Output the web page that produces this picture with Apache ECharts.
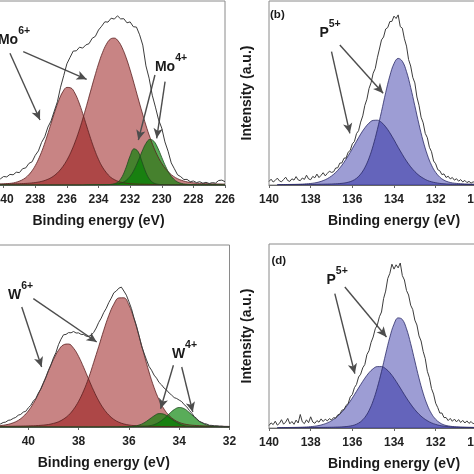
<!DOCTYPE html>
<html><head><meta charset="utf-8">
<script src="https://cdn.jsdelivr.net/npm/echarts@6/dist/echarts.min.js"></script>
<style>html,body{margin:0;padding:0;background:#fff}#c{width:474px;height:474px}</style>
</head><body><div id="c"></div>
<script>
// ---------- Panel (a): Mo 3d ----------
const aEnvE = [241.0,240.8,240.6,240.4,240.2,240.0,239.8,239.6,239.4,239.2,239.0,238.8,238.6,238.4,238.2,238.0,237.8,237.6,237.4,237.2,237.0,236.8,236.6,236.4,236.2,236.0,235.8,235.6,235.4,235.2,235.0,234.8,234.6,234.4,234.2,234.0,233.8,233.6,233.4,233.2,233.0,232.8,232.6,232.4,232.2,232.0,231.8,231.6,231.4,231.2,231.0,230.8,230.6,230.4,230.2,230.0,229.8,229.6,229.4,229.2,229.0,228.8,228.6,228.4,228.2,228.0,227.8,227.6,227.4,227.2,227.0,226.8,226.6,226.4,226.2,226.0];
const aEnv = [4,5.5,4.8,6.9,6.2,8.5,8.1,10.6,10.2,12.8,12.4,16.3,17.1,21.6,23.2,29.7,34.1,42.6,48.2,57.9,64.1,73.8,83.2,97.8,109.3,121.2,127.6,133.9,134.2,137.8,136.9,140.1,141.3,146.7,148.6,155.0,158.8,163.2,162.9,166.8,165.9,169.2,166.1,166.3,162.2,163.1,158.3,157.9,150.2,139.9,119.1,106.8,89.8,77.9,65.2,56.9,43.1,33.8,22.1,16.2,10.2,8.3,5.5,5.6,3.3,4.0,2.4,3.3,1.8,2.7,1.5,2.4,1.9,4.5,4.9,3.3];
const aCompE = [242,241.75,241.5,241.25,241,240.75,240.5,240.25,240,239.75,239.5,239.25,239,238.75,238.5,238.25,238,237.75,237.5,237.25,237,236.75,236.5,236.25,236,235.75,235.5,235.25,235,234.75,234.5,234.25,234,233.75,233.5,233.25,233,232.75,232.5,232.25,232,231.75,231.5,231.25,231,230.75,230.5,230.25,230,229.75,229.5,229.25,229,228.75,228.5,228.25,228,227.75,227.5,227.25,227,226.75,226.5,226.25,226];
const aMo6Low = [0.46,0.5,0.54,0.59,0.64,0.71,0.8,0.93,1.1,1.4,1.8,2.6,3.9,5.8,8.8,13.2,19.3,27.4,37.3,49,61.6,74,85.1,93.4,97.6,97.1,92,83.1,71.6,59,46.6,35.3,25.6,17.9,12.3,8,5.4,3.6,2.5,1.8,1.3,1.1,0.9,0.8,0.7,0.6,0.55,0.5,0.45,0.42,0.4,0.37,0.35,0.33,0.31,0.3,0.28,0.27,0.26,0.25,0.24,0.23,0.22,0.21,0.2];
const aMo6High = [0.57,0.6,0.64,0.68,0.72,0.76,0.81,0.87,0.93,0.99,1.07,1.19,1.31,1.47,1.69,1.99,2.44,3.08,4.03,5.4,7.3,10,13.7,18.6,24.8,32.7,42.2,53.3,65.9,79.6,93.9,107.9,121.1,132.3,140.8,145.9,146.9,143.9,137.1,127.2,115,101.3,87,73.1,59.7,47.8,37.4,28.7,21.6,16.1,11.8,8.6,6.3,4.7,3.5,2.7,2.2,1.8,1.6,1.4,1.25,1.15,1.07,1.0,0.93];
const aMo4High = [0,0,0,0,0,0,0,0,0,0,0,0,0,0,0,0,0,0,0,0,0,0,0,0,0,0,0,0,0,0.1,0.13,0.16,0.2,0.24,0.33,0.53,1.19,3.3,8.5,17.8,29.1,36.2,33.5,23.3,12.5,5.3,1.9,0.75,0.39,0.27,0.22,0.18,0.15,0.13,0.11,0.1,0,0,0,0,0,0,0,0,0];
const aMo4Low = [0,0,0,0,0,0,0,0,0,0,0,0,0,0,0,0,0,0,0,0,0,0,0,0,0,0,0,0,0,0.18,0.21,0.23,0.27,0.31,0.38,0.49,0.71,1.2,2.3,4.6,8.7,15.1,23.8,33.4,41.6,45.6,43.8,37,27.6,18.4,11,6,3,1.55,0.86,0.56,0.42,0.34,0.28,0.24,0.21,0.18,0.16,0.14,0.13];
const aArrows = [[239.60,131.7,237.70,65],[238.76,133.3,234.75,105.7],[230.43,110,231.48,45],[229.79,103.3,230.32,46.7]];

// ---------- Panel (b): P 2p ----------
const bEnvE = [140.0,139.9,139.8,139.7,139.6,139.5,139.4,139.3,139.2,139.1,139.0,138.9,138.8,138.7,138.6,138.5,138.4,138.3,138.2,138.1,138.0,137.9,137.8,137.7,137.6,137.5,137.4,137.3,137.2,137.1,137.0,136.9,136.8,136.7,136.6,136.5,136.4,136.3,136.2,136.1,136.0,135.9,135.8,135.7,135.6,135.5,135.4,135.3,135.2,135.1,135.0,134.9,134.8,134.7,134.6,134.5,134.4,134.3,134.2,134.1,134.0,133.9,133.8,133.7,133.6,133.5,133.4,133.3,133.2,133.1,133.0,132.9,132.8,132.7,132.6,132.5,132.4,132.3,132.2,132.1,132.0,131.9,131.8,131.7,131.6,131.5,131.4,131.3,131.2,131.1,131.0,130.9,130.8,130.7,130.6,130.5,130.4,130.3,130.2,130.1,130.0];
const bEnv = [3.5,5.8,3.0,4.6,6.9,4.1,3.2,5.5,7.8,4.4,3.6,6.2,4.9,8.4,5.1,4.3,7.0,5.6,9.8,6.1,5.3,8.6,7.2,10.9,7.4,9.7,12.3,9.1,11.6,13.8,12.6,13.2,17.0,17.2,21.9,22.1,26.8,27.0,32.8,34.6,41.2,43.5,51.4,54.3,62.9,69.1,79.6,85.8,96.4,102.3,111.8,116.5,127.2,136.0,145.1,148.0,156.0,157.5,163.4,163.6,168.9,166.5,170.1,158.4,156.8,146.2,138.9,125.4,119.0,107.7,102.1,88.0,79.7,67.8,62.2,51.6,47.3,37.7,33.3,24.0,21.2,15.3,14.2,10.4,11.1,7.5,8.8,6.1,7.5,4.8,6.3,3.8,5.4,3.1,4.6,2.4,3.6,1.9,3.2,2.0,2.9];
const pCompE = [139.6,139.4,139.2,139.0,138.8,138.6,138.4,138.2,138.0,137.8,137.6,137.4,137.2,137.0,136.8,136.6,136.4,136.2,136.0,135.8,135.6,135.4,135.2,135.0,134.8,134.6,134.4,134.2,134.0,133.8,133.6,133.4,133.2,133.0,132.8,132.6,132.4,132.2,132.0,131.8,131.6,131.4,131.2,131.0,130.8,130.6,130.4,130.2,130.0,129.8,129.6];
const bP5Main = [0.32,0.34,0.37,0.4,0.43,0.46,0.5,0.55,0.6,0.65,0.72,0.8,0.89,1.02,1.2,1.47,1.94,2.76,4.2,6.7,10.9,17.4,26.8,39.5,55.4,73.5,92.3,109.1,121.4,126.6,123.7,113.4,97.6,79.2,60.6,43.9,30.2,19.8,12.6,7.8,4.8,3.1,2.1,1.6,1.27,1.06,0.92,0.82,0.74,0.67,0.61];
const bP5Side = [0.41,0.44,0.48,0.55,0.62,0.73,0.89,1.14,1.53,2.1,3.0,4.4,6.3,9.0,12.5,17.1,22.7,29.2,36.3,43.7,50.9,57.1,61.9,64.6,64.8,62.6,58.2,52.2,45.2,37.7,30.6,23.9,18.2,13.4,9.6,6.8,4.6,3.2,2.3,1.6,1.2,0.94,0.78,0.66,0.58,0.52,0.47,0.43,0.4,0.37,0.34];
const bArrows = [[137.00,133.3,136.12,51.7],[136.60,140,134.52,91.7]];

// ---------- Panel (c): W 4f ----------
const cEnvE = [41.5,41.4,41.3,41.2,41.1,41.0,40.9,40.8,40.7,40.6,40.5,40.4,40.3,40.2,40.1,40.0,39.9,39.8,39.7,39.6,39.5,39.4,39.3,39.2,39.1,39.0,38.9,38.8,38.7,38.6,38.5,38.4,38.3,38.2,38.1,38.0,37.9,37.8,37.7,37.6,37.5,37.4,37.3,37.2,37.1,37.0,36.9,36.8,36.7,36.6,36.5,36.4,36.3,36.2,36.1,36.0,35.9,35.8,35.7,35.6,35.5,35.4,35.3,35.2,35.1,35.0,34.9,34.8,34.7,34.6,34.5,34.4,34.3,34.2,34.1,34.0,33.9,33.8,33.7,33.6,33.5,33.4,33.3,33.2,33.1,33.0,32.9,32.8,32.7,32.6,32.5,32.4,32.3,32.2,32.1,32.0];
const cEnv = [1.5,2.2,2.4,3.3,3.1,4.5,4.9,6.6,7.1,8.6,9.6,11.8,12.6,14.9,15.7,19.2,21.7,26.0,28.6,33.9,38.0,43.7,49.5,56.5,62.2,69.1,74.5,82.3,87.8,92.2,92.6,94.4,94.2,95.5,94.0,94.1,92.6,92.5,90.8,90.6,91.9,94.6,99.0,104.6,108.9,114.5,118.7,124.4,128.9,134.2,136.0,138.8,139.9,136.0,131.8,125.3,118.5,109.2,101.2,91.5,81.3,74.0,67.1,60.6,56.8,51.9,48.8,44.5,42.1,38.9,36.9,34.0,31.9,29.4,28.5,26.9,25.4,22.3,20.2,16.7,13.8,10.4,8.4,5.5,4.6,3.4,2.9,1.7,1.6,1.2,1.2,0.8,0.8,0.4,0.4,0.2];
const cCompE = [42.0,41.8,41.6,41.4,41.2,41.0,40.8,40.6,40.4,40.2,40.0,39.8,39.6,39.4,39.2,39.0,38.8,38.6,38.4,38.2,38.0,37.8,37.6,37.4,37.2,37.0,36.8,36.6,36.4,36.2,36.0,35.8,35.6,35.4,35.2,35.0,34.8,34.6,34.4,34.2,34.0,33.8,33.6,33.4,33.2,33.0,32.8,32.6,32.4,32.2,32.0];
const cW6High = [0.59,0.68,0.79,0.97,1.27,1.78,2.67,4.2,6.6,10.5,16.0,23.6,33.1,44.3,56.1,67.5,76.7,82.2,83.0,78.8,70.6,59.7,47.8,36.3,26.2,18.1,12.0,7.6,4.8,3.05,2.0,1.4,1.04,0.83,0.7,0.6,0.52,0.46,0.41,0.37,0.33,0.3,0.27,0.25,0.23,0.21,0.2,0.18,0.17,0.16,0.15];
const cW6Low = [0.47,0.5,0.54,0.58,0.62,0.67,0.73,0.8,0.88,0.97,1.1,1.25,1.5,1.9,2.5,3.6,5.2,7.9,11.8,17.7,25.7,36.2,49.1,64.6,80.5,96.8,111.5,122.8,129.1,129.2,122.1,108.6,91.3,72.8,55,39.5,27.1,17.8,11.4,7.2,4.6,3.0,2.1,1.6,1.3,1.1,0.95,0.83,0.74,0.66,0.6];
const cW4High = [0,0,0,0,0,0,0,0,0,0,0,0,0,0,0,0,0,0,0,0,0,0,0,0,0,0.06,0.08,0.09,0.12,0.18,0.33,0.79,1.9,4.1,7.5,11.1,13.4,12.8,9.7,6.0,3.3,1.35,0.59,0.25,0.14,0.09,0.08,0.06,0.05,0.04,0.04];
const cW4Low = [0,0,0,0,0,0,0,0,0,0,0,0,0,0,0,0,0,0,0,0,0,0,0,0,0,0.07,0.08,0.09,0.1,0.12,0.14,0.19,0.29,0.51,1.07,2.36,4.77,8.52,13.1,17.4,19.5,18.3,14.5,9.8,5.8,3.0,1.39,0.64,0.33,0.21,0.15];
const cArrows = [[40.26,120,39.47,60],[39.80,128.3,37.28,85],[34.23,61.7,34.74,18.3],[33.90,60,33.46,15]];

// ---------- Panel (d): P 2p ----------
const dEnvE = bEnvE;
const dEnv = [2.5,5.1,3.4,6.8,2.9,4.6,8.3,3.8,5.9,9.6,4.2,6.5,3.7,7.9,5.0,13.5,6.1,4.4,8.2,5.3,11.2,6.0,4.7,7.4,5.8,9.1,6.5,8.8,7.1,9.4,8.0,10.4,9.8,13.1,13.9,17.8,18.4,22.6,24.4,31.2,33.4,40.3,43.6,51.0,53.8,60.2,63.5,73.4,77.3,85.6,91.0,99.2,103.1,111.3,116.0,129.4,136.9,149.5,154.6,163.8,158.9,163.2,160.1,165.0,152.4,148.0,137.5,133.0,122.8,118.4,107.9,103.0,92.1,87.0,76.6,69.4,56.7,50.3,39.4,33.9,24.8,20.4,14.9,15.0,10.4,10.5,7.4,9.6,6.7,8.9,6.1,8.4,5.5,7.6,5.0,7.1,4.6,6.5,4.2,5.8,4.4];
const dP5Main = [0.24,0.26,0.28,0.3,0.32,0.35,0.38,0.41,0.45,0.49,0.54,0.6,0.66,0.74,0.86,1.0,1.25,1.66,2.4,3.8,6.3,10.6,17.4,27.2,40.4,56.5,74.1,90.8,103.8,110.1,108.5,99.2,84.4,67,49.8,34.8,22.9,14.3,8.7,5.2,3.1,2.1,1.5,1.14,0.93,0.8,0.7,0.62,0.56,0.5,0.46];
const dP5Side = [0.39,0.42,0.46,0.52,0.59,0.68,0.82,1.02,1.34,1.8,2.5,3.6,5.1,7.3,10.1,13.8,18.4,23.9,30.0,36.7,43.4,49.8,55.3,59.3,61.4,61.4,59.3,55.3,49.8,43.4,36.7,30.0,23.9,18.4,13.8,10.1,7.3,5.1,3.6,2.5,1.8,1.34,1.02,0.82,0.68,0.59,0.52,0.46,0.42,0.39,0.36];
const dArrows = [[136.84,134.3,135.88,54.3],[136.36,141,134.36,91]];

// ---------- helpers ----------
const FONT = 'Liberation Sans, Arial, sans-serif';
const pairs = (xs, ys) => xs.map((x, i) => [x, ys[i]]);
const rich = {
  m: {fontSize: 14, fontWeight: 'bold', color: '#1a1a1a', fontFamily: FONT, lineHeight: 28},
  s: {fontSize: 10.5, fontWeight: 'bold', color: '#1a1a1a', fontFamily: FONT, lineHeight: 10, verticalAlign: 'top'},
  p: {fontSize: 11.5, fontWeight: 'bold', color: '#1a1a1a', fontFamily: FONT}
};
function textMark(coord, fmt) {
  return {coord: coord, symbol: 'circle', symbolSize: 0,
    label: {show: true, position: [0, 0], align: 'left', verticalAlign: 'middle', formatter: fmt, rich: rich}};
}
function comp(idx, xs, ys, color, op, edge) {
  return {type: 'line', xAxisIndex: idx, yAxisIndex: idx, data: pairs(xs, ys), showSymbol: false,
    smooth: 0.4, silent: true, animation: false,
    lineStyle: {color: edge, width: 0.8}, areaStyle: {color: color, opacity: op}};
}
function env(idx, xs, ys, arrows, texts) {
  return {type: 'line', xAxisIndex: idx, yAxisIndex: idx, data: pairs(xs, ys), showSymbol: false,
    silent: true, animation: false, z: 5,
    lineStyle: {color: '#3c3c3c', width: 1},
    markLine: {silent: true, animation: false, symbol: ['none', 'arrow'], symbolSize: [7, 10],
      lineStyle: {color: '#4d4d4d', width: 1.4, type: 'solid'}, label: {show: false},
      data: arrows.map(a => [{coord: [a[0], a[1]]}, {coord: [a[2], a[3]]}])},
    markPoint: {silent: true, animation: false, data: texts}};
}
function xAx(idx, min, max) {
  return {type: 'value', gridIndex: idx, inverse: true, min: min, max: max, interval: 2,
    axisLine: {show: true, lineStyle: {color: '#666', width: 1}},
    axisTick: {show: true, length: 3, lineStyle: {color: '#666'}},
    axisLabel: {show: true, margin: 9, fontSize: 12, fontWeight: 'bold', color: '#222', fontFamily: FONT, hideOverlap: false},
    splitLine: {show: false},
    name: 'Binding energy (eV)', nameLocation: 'middle', nameGap: 29,
    nameTextStyle: {fontSize: 14, fontWeight: 'bold', color: '#1a1a1a', fontFamily: FONT}};
}
function yAx(idx, max) {
  return {type: 'value', gridIndex: idx, min: 0, max: max,
    axisLine: {show: false}, axisTick: {show: false}, axisLabel: {show: false}, splitLine: {show: false},
    name: 'Intensity (a.u.)', nameLocation: 'middle', nameGap: 15,
    nameTextStyle: {fontSize: 14, fontWeight: 'bold', color: '#1a1a1a', fontFamily: FONT}};
}
function grid(left, top, width, height) {
  return {left: left, top: top, width: width, height: height, show: true, borderColor: '#8a8a8a', borderWidth: 1,
    containLabel: false, outerBoundsMode: 'none'};
}
const RED = 'rgb(145,10,10)', GREEN = 'rgb(0,128,0)', BLUE = 'rgb(21,21,152)';
const RED_E = '#5a2020', GREEN_E = '#1f4a1f', BLUE_E = '#2a2a66';

const option = {
  backgroundColor: '#fff',
  textStyle: {fontFamily: FONT},
  animation: false,
  grid: [grid(-28, 1, 253, 184), grid(269, 1, 250, 184), grid(-22, 245, 251.5, 182), grid(269, 244, 250, 184)],
  xAxis: [xAx(0, 226, 242), xAx(1, 128, 140), xAx(2, 32, 42), xAx(3, 128, 140)],
  yAxis: [yAx(0, 184), yAx(1, 184), yAx(2, 182), yAx(3, 184)],
  series: [
    comp(0, aCompE, aMo6Low, RED, 0.5, RED_E),
    comp(0, aCompE, aMo6High, RED, 0.5, RED_E),
    comp(0, aCompE, aMo4High, GREEN, 0.65, GREEN_E),
    comp(0, aCompE, aMo4Low, GREEN, 0.65, GREEN_E),
    env(0, aEnvE, aEnv, aArrows, [
      textMark([240.36, 145], '{m|Mo}{s|6+}'),
      textMark([230.43, 118], '{m|Mo}{s|4+}')]),
    comp(1, pCompE, bP5Side, BLUE, 0.42, BLUE_E),
    comp(1, pCompE, bP5Main, BLUE, 0.42, BLUE_E),
    env(1, bEnvE, bEnv, bArrows, [
      textMark([139.95, 170], '{p|(b)}'),
      textMark([137.58, 152], '{m|P}{s|5+}')]),
    comp(2, cCompE, cW6High, RED, 0.5, RED_E),
    comp(2, cCompE, cW6Low, RED, 0.5, RED_E),
    comp(2, cCompE, cW4High, GREEN, 0.65, GREEN_E),
    comp(2, cCompE, cW4Low, GREEN, 0.65, GREEN_E),
    env(2, cEnvE, cEnv, cArrows, [
      textMark([40.81, 132], '{m|W}{s|6+}'),
      textMark([34.29, 73], '{m|W}{s|4+}')]),
    comp(3, pCompE, dP5Side, BLUE, 0.42, BLUE_E),
    comp(3, pCompE, dP5Main, BLUE, 0.42, BLUE_E),
    env(3, dEnvE, dEnv, dArrows, [
      textMark([139.88, 167], '{p|(d)}'),
      textMark([137.24, 148], '{m|P}{s|5+}')])
  ]
};
const chart = echarts.init(document.getElementById('c'), null, {renderer: 'canvas'});
chart.setOption(option);
</script>
</body></html>
